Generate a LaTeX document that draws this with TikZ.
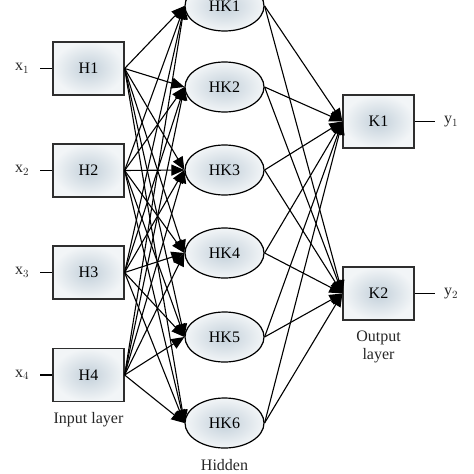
\documentclass[tikz,border=0pt]{standalone}
\usepackage{fontspec}
\setmainfont{Liberation Serif}
\usetikzlibrary{arrows.meta,shapes.geometric}
\definecolor{edgecol}{HTML}{2E2E2E}
\definecolor{innerc}{HTML}{C3D0DA}
\definecolor{outerc}{HTML}{F2F5F7}
\tikzset{
  box/.style={draw=edgecol,line width=1.2pt,inner color=innerc,outer color=outerc,minimum width=71pt,minimum height=53pt,inner sep=0pt,font=\fontsize{16}{18}\selectfont},
  hid/.style={ellipse,draw=black,line width=1.2pt,inner color=innerc,outer color=outerc,minimum width=79pt,minimum height=50pt,inner sep=0pt,font=\fontsize{16}{18}\selectfont},
  lab/.style={font=\fontsize{16}{18}\selectfont,inner sep=0pt,text=black!85},
  conn/.style={line width=1.1pt,-{Triangle[length=13pt,width=11pt]}},
  plain/.style={line width=1.1pt}
}
\begin{document}
\begin{tikzpicture}[x=1pt,y=-1pt]
\useasboundingbox (0,0) rectangle (474,474);
% input boxes
\node[box] (H1) at (88.5,68.5) {H1};
\node[box] (H2) at (88.5,170.5) {H2};
\node[box] (H3) at (88.5,272.5) {H3};
\node[box] (H4) at (88.5,375) {H4};
% hidden
\node[hid] (HK1) at (224.5,6) {HK1};
\node[hid] (HK2) at (224.5,87) {HK2};
\node[hid] (HK3) at (224.5,170) {HK3};
\node[hid] (HK4) at (224.5,253) {HK4};
\node[hid] (HK5) at (224.5,337) {HK5};
\node[hid] (HK6) at (224.5,423) {HK6};
% output
\node[box] (K1) at (378.5,121.5) {K1};
\node[box] (K2) at (378.5,293.5) {K2};
% inputs labels
\foreach \i/\y in {1/68.5,2/170.5,3/272.5,4/375}{
  \node[lab] (x\i) at (22,\y) {x$_{\i}$};
  \coordinate (xs\i) at (40,\y);
  \draw[plain] (xs\i) -- (H\i.west);
}
\foreach \i/\y in {1/121.5,2/293.5}{
  \node[lab] (y\i) at (451,\y) {y$_{\i}$};
  \coordinate (ye\i) at (435,\y);
  \draw[plain] (K\i.east) -- (ye\i);
}
% connections
\foreach \a in {1,...,4}{
  \foreach \b in {1,...,6}{
    \draw[conn] (H\a.east) -- (HK\b.west);
  }
}
\foreach \b in {1,...,6}{
  \foreach \c in {1,2}{
    \draw[conn] (HK\b.east) -- (K\c.west);
  }
}
\node[lab] (inl) at (88.5,420) {Input layer};
\node[lab] (hidl) at (224.5,465) {Hidden};
\node[lab,align=center] (outl) at (378.5,347) {Output\\layer};
\end{tikzpicture}
\end{document}
